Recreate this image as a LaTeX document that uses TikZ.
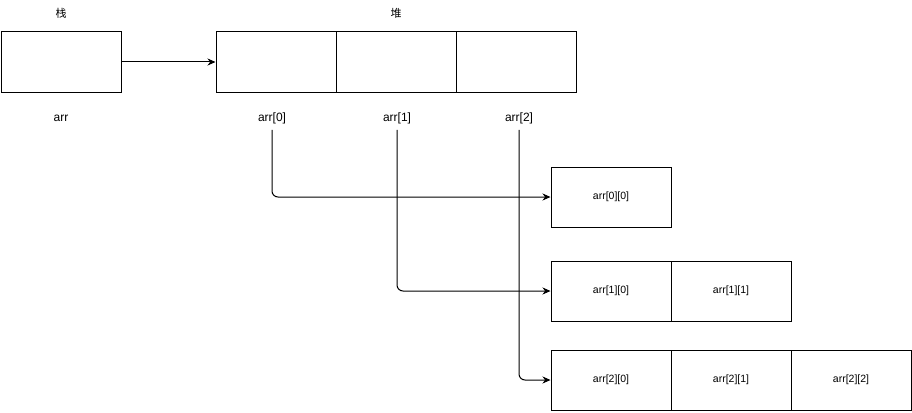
\documentclass[tikz,border=0pt]{standalone}
\usepackage{fontspec}
\setmainfont{Liberation Sans}
\newfontfamily\cjk{Noto Sans CJK SC}
\usetikzlibrary{arrows.meta}
\begin{document}
\begin{tikzpicture}[x=1pt,y=-1pt,
  box/.style={draw,line width=1pt,minimum width=120pt,minimum height=60pt,inner sep=0pt,font=\fontsize{10.5}{12}\selectfont},
  lbl/.style={font=\fontsize{12}{14}\selectfont,inner sep=1pt},
  conn/.style={line width=1pt,-{Stealth[length=8pt,width=7pt]},rounded corners=6pt}]
\useasboundingbox (0,0) rectangle (912,412);
\node[box] (s) at (61,62) {};
\node[box] (h0) at (276,62) {};
\node[box] (h1) at (396,62) {};
\node[box] (h2) at (516,62) {};
\node[lbl,font=\cjk\fontsize{11}{13}\selectfont] (ts) at (61,13) {栈};
\node[lbl,font=\cjk\fontsize{11}{13}\selectfont] (th) at (396,13) {堆};
\node[lbl] (la) at (61,118) {arr};
\node[lbl] (l0) at (272,118) {arr[0]};
\node[lbl] (l1) at (397,118) {arr[1]};
\node[lbl] (l2) at (519,118) {arr[2]};
\node[box] (a00) at (611,197) {arr[0][0]};
\node[box] (a10) at (611,291) {arr[1][0]};
\node[box] (a11) at (731,291) {arr[1][1]};
\node[box] (a20) at (611,380) {arr[2][0]};
\node[box] (a21) at (731,380) {arr[2][1]};
\node[box] (a22) at (851,380) {arr[2][2]};
\draw[conn] (s.east) -- (h0.west);
\draw[conn] (l0.south) ++(0,5) |- (a00.west);
\draw[conn] (l1.south) ++(0,5) |- (a10.west);
\draw[conn] (l2.south) ++(0,5) |- (a20.west);
\end{tikzpicture}
\end{document}
